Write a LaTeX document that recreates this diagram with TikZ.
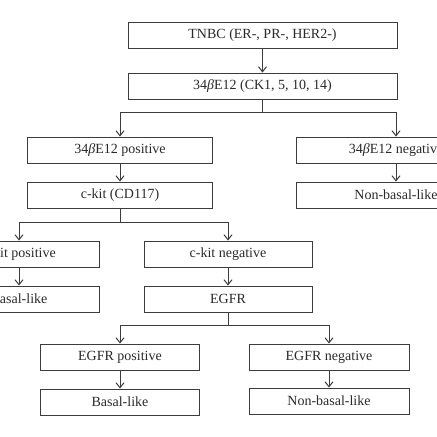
\documentclass[tikz,border=0pt]{standalone}
\usepackage{fontspec}
\setmainfont{Liberation Serif}
\usetikzlibrary{arrows.meta}
\definecolor{ln}{HTML}{3C3C3C}
\definecolor{tx}{HTML}{2A2A2A}
\tikzset{
  box/.style={draw=ln, line width=1pt, rectangle, minimum height=26pt, inner sep=0pt, text=tx,
    font=\fontsize{14}{16}\selectfont},
  arr/.style={draw=ln, line width=1pt, -{Straight Barb[length=5pt,width=8pt,line width=1pt]}},
  ln/.style={draw=ln, line width=1pt}
}
\newcommand{\bet}{\textit{β}}
\begin{document}
\begin{tikzpicture}[x=1pt,y=-1pt]
\fill[white] (0,0) rectangle (437,437);
\clip (0,0) rectangle (437,437);
\node[box, minimum width=269pt] (tnbc) at (262.5,35) {TNBC (ER-, PR-, HER2-)};
\node[box, minimum width=269pt] (ck) at (262.5,86) {34\bet E12 (CK1, 5, 10, 14)};
\node[box, minimum width=185pt] (pos) at (120,150) {34\bet E12 positive};
\node[box, minimum width=200pt] (neg) at (396,150) {34\bet E12 negative};
\node[box, minimum width=185pt] (ckit) at (120,195) {c-kit (CD117)};
\node[box, minimum width=200pt] (nb1) at (396,195) {Non-basal-like};
\node[box, minimum width=160pt] (ckpos) at (19,254) {c-kit positive};
\node[box, minimum width=168pt] (ckneg) at (228,254) {c-kit negative};
\node[box, minimum width=160pt] (bl1) at (19,299) {Basal-like};
\node[box, minimum width=168pt] (egfr) at (228,299) {EGFR};
\node[box, minimum width=159pt] (epos) at (120,357) {EGFR positive};
\node[box, minimum width=160pt] (eneg) at (329,357) {EGFR negative};
\node[box, minimum width=159pt] (bl2) at (120,402) {Basal-like};
\node[box, minimum width=160pt] (nb2) at (329,401) {Non-basal-like};
\coordinate (s1) at (262.5,112);
\coordinate (s2) at (120,222);
\coordinate (s3) at (228,325);
\draw[arr] (tnbc) -- (ck);
\draw[ln] (ck.south) -- (s1);
\draw[arr] (s1) -| (pos);
\draw[arr] (s1) -| (neg);
\draw[arr] (pos) -- (ckit);
\draw[arr] (neg) -- (nb1);
\draw[ln] (ckit.south) -- (s2);
\draw[arr] (s2) -| (ckpos);
\draw[arr] (s2) -| (ckneg);
\draw[arr] (ckpos) -- (bl1);
\draw[arr] (ckneg) -- (egfr);
\draw[ln] (egfr.south) -- (s3);
\draw[arr] (s3) -| (epos);
\draw[arr] (s3) -| (eneg);
\draw[arr] (epos) -- (bl2);
\draw[arr] (eneg) -- (nb2);
\end{tikzpicture}
\end{document}
